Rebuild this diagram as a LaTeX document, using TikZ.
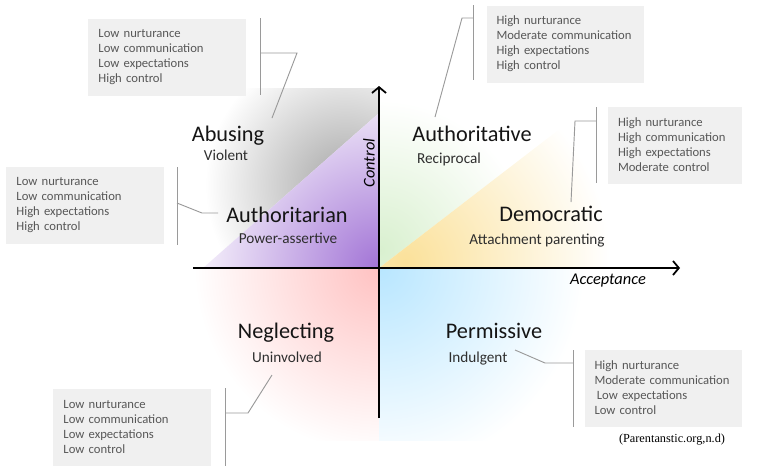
\documentclass[tikz,border=0pt]{standalone}
\usepackage{fontspec}
\setmainfont{Carlito}
\newfontfamily\citefont{Liberation Serif}
\usetikzlibrary{arrows.meta, positioning}

\begin{document}
\begin{tikzpicture}[
    x=0.03cm, y=-0.03cm,
    every node/.style={font=\fontsize{10.8}{12.8}\selectfont},
]

\definecolor{boxfill}{HTML}{F0F0F0}
\definecolor{boxtext}{HTML}{575757}
\definecolor{leadergray}{HTML}{9A9A9A}
\definecolor{titletext}{HTML}{151515}
\definecolor{subtext}{HTML}{2E2E2E}
\definecolor{abusegray}{HTML}{A6A6A6}
\definecolor{authpurple}{HTML}{A274D6}
\definecolor{recipgreen}{HTML}{D9F0CF}
\definecolor{democyellow}{HTML}{FBE19A}
\definecolor{neglectpink}{HTML}{FFC2C2}
\definecolor{permblue}{HTML}{B8E6FF}

% ================================================================
%  Sheet planned in pixels of the 768 x 469 reference, y downwards.
%  Axes cross at (379, 268): acceptance runs right to x = 680,
%  control runs up to y = 87.  Four quadrant labels, each with a
%  grey trait box tied to it by a thin bracket leader.
% ================================================================

\tikzset{
  axisline/.style={draw=black, line width=1.5pt,
                   -{Straight Barb[length=5pt, width=12pt]}},
  axislabel/.style={font=\fontsize{14}{16}\selectfont\itshape},
  quadname/.style={anchor=base, text=titletext,
                   font=\fontsize{19}{22}\selectfont},
  quadsub/.style={anchor=base, text=subtext,
                  font=\fontsize{13}{15}\selectfont},
  traits/.style={fill=boxfill, text=boxtext, align=left,
                 inner xsep=0.3cm, inner ysep=0pt,
                 text width=4.11cm, minimum height=2.31cm},
  leader/.style={draw=leadergray, line width=0.8pt},
}

\useasboundingbox (0,0) rectangle (768,469);

% ---------------------------------------------------------------- washes
\begin{scope}
  \clip (193,88) -- (379,88) -- (379,113) -- (203,268) -- (193,268) -- cycle;
  \shade[inner color=abusegray, outer color=white] (345,185) circle (140);
\end{scope}
\begin{scope}
  \clip (379,113) -- (379,268) -- (203,268) -- cycle;
  \shade[inner color=authpurple, outer color=white] (379,268) circle (200);
\end{scope}
\begin{scope}
  \clip (379,88) -- (379,268) -- (600,98) -- (600,88) -- cycle;
  \shade[inner color=recipgreen, outer color=white] (380,250) circle (150);
\end{scope}
\begin{scope}
  \clip (379,268) -- (600,98) -- (620,268) -- cycle;
  \shade[inner color=democyellow, outer color=white] (405,262) circle (205);
\end{scope}
\begin{scope}
  \clip (193,268) rectangle (379,440);
  \shade[inner color=neglectpink, outer color=white] (379,268) circle (185);
\end{scope}
\begin{scope}
  \clip (379,268) rectangle (620,440);
  \shade[inner color=permblue, outer color=white] (379,268) circle (205);
\end{scope}

% ---------------------------------------------------------------- axes
\coordinate (accstart) at (193,268);
\coordinate (accend) at (680,268);
\coordinate (ctlstart) at (379,418);
\coordinate (ctlend) at (379,86);
\draw[axisline] (accstart) -- (accend);
\draw[axisline] (ctlstart) -- (ctlend);
\node[axislabel, rotate=90] (control) at (369,163) {Control};
\node[axislabel] (acceptance) at (608,281) {Acceptance};

% ---------------------------------------------------------------- quadrant labels
\node[quadname] (abusing) at (228,141) {Abusing};
\node[quadsub] (violent) at (226,160) {Violent};
\node[quadname] (authoritarian) at (287,222) {Authoritarian};
\node[quadsub] (powerassert) at (288,243) {Power-assertive};
\node[quadname] (authoritative) at (472,141) {Authoritative};
\node[quadsub] (reciprocal) at (449,163) {Reciprocal};
\node[quadname] (democratic) at (551,221) {Democratic};
\node[quadsub] (attachment) at (537,244) {Attachment parenting};
\node[quadname] (neglecting) at (286,338) {Neglecting};
\node[quadsub] (uninvolved) at (287,362) {Uninvolved};
\node[quadname] (permissive) at (494,338) {Permissive};
\node[quadsub] (indulgent) at (478,362) {Indulgent};

% ---------------------------------------------------------------- trait boxes
\node[traits] (abusebox) at (167,57)
  {Low nurturance\\Low communication\\Low expectations\\High control};
\node[traits] (autharianbox) at (85,205)
  {Low nurturance\\Low communication\\High expectations\\High control};
\node[traits] (authativebox) at (565,44)
  {High nurturance\\Moderate communication\\High expectations\\High control};
\node[traits, text width=3.42cm] (democbox) at (675,145)
  {High nurturance\\High communication\\High expectations\\Moderate control};
\node[traits] (permbox) at (663,388)
  {High nurturance\\Moderate communication\\\hspace{2pt}Low expectations\\Low control};
\node[traits] (neglectbox) at (132,427)
  {Low nurturance\\Low communication\\Low expectations\\Low control};

% ---------------------------------------------------------------- leaders
% abusing
\coordinate (abusebartop) at (260,18);
\coordinate (abusebarbot) at (260,95);
\coordinate (abusejoin) at (260,53);
\coordinate (abusebend) at (297,53);
\coordinate (abusetip) at (272,118);
\draw[leader] (abusebartop) -- (abusebarbot);
\draw[leader] (abusejoin) -- (abusebend) -- (abusetip);
% authoritarian
\coordinate (autharbartop) at (177,167);
\coordinate (autharbarbot) at (177,245);
\coordinate (autharjoin) at (177,203);
\coordinate (autharbend) at (202,213);
\coordinate (authartip) at (218,213);
\draw[leader] (autharbartop) -- (autharbarbot);
\draw[leader] (autharjoin) -- (autharbend) -- (authartip);
% authoritative
\coordinate (authatbartop) at (473,5);
\coordinate (authatbarbot) at (473,80);
\coordinate (authatjoin) at (473,18);
\coordinate (authatbend) at (462,18);
\coordinate (authattip) at (435,117);
\draw[leader] (authatbartop) -- (authatbarbot);
\draw[leader] (authatjoin) -- (authatbend) -- (authattip);
% democratic
\coordinate (democbartop) at (596,107);
\coordinate (democbarbot) at (596,183);
\coordinate (democjoin) at (596,121);
\coordinate (democbend) at (575,121);
\coordinate (democtip) at (571,202);
\draw[leader] (democbartop) -- (democbarbot);
\draw[leader] (democjoin) -- (democbend) -- (democtip);
% permissive
\coordinate (permbartop) at (573,350);
\coordinate (permbarbot) at (573,427);
\coordinate (permjoin) at (573,363);
\coordinate (permbend) at (545,363);
\coordinate (permtip) at (515,350);
\draw[leader] (permbartop) -- (permbarbot);
\draw[leader] (permjoin) -- (permbend) -- (permtip);
% neglecting
\coordinate (neglectbartop) at (225,388);
\coordinate (neglectbarbot) at (225,466);
\coordinate (neglectjoin) at (225,413);
\coordinate (neglectbend) at (248,413);
\coordinate (neglecttip) at (272,375);
\draw[leader] (neglectbartop) -- (neglectbarbot);
\draw[leader] (neglectjoin) -- (neglectbend) -- (neglecttip);

% ---------------------------------------------------------------- source
\node[font=\citefont\fontsize{10.5}{12}\selectfont] (source) at (672,440)
  {(Parentanstic.org,n.d)};

\end{tikzpicture}
\end{document}
